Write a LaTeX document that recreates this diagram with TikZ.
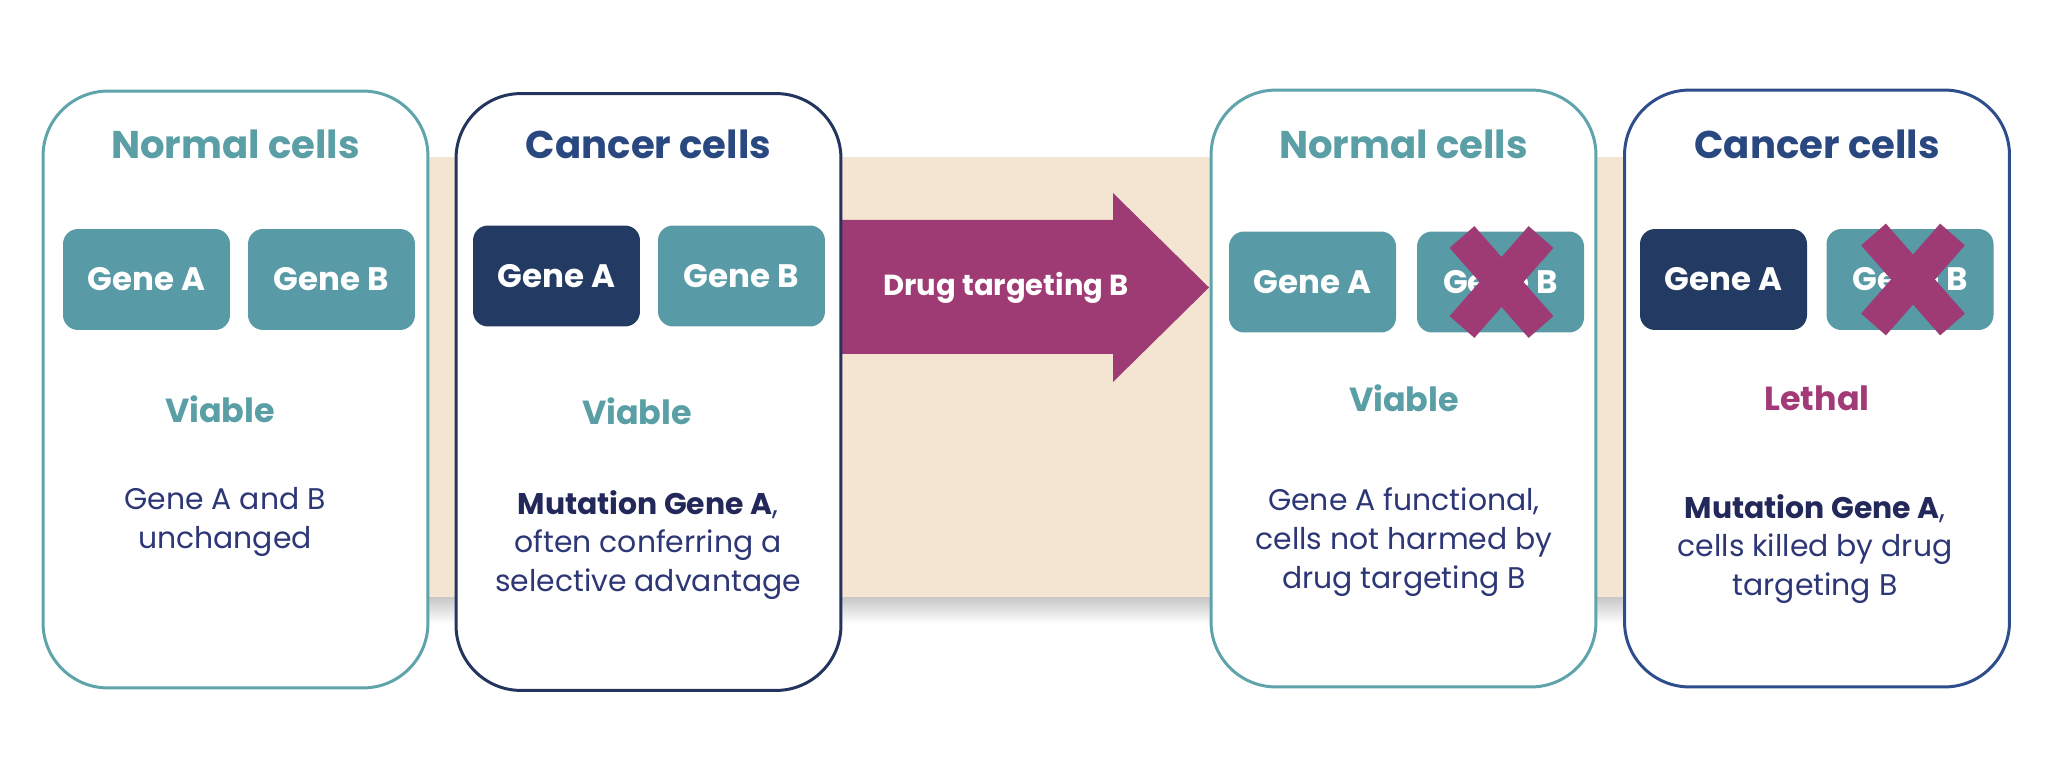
\documentclass[tikz,border=0pt]{standalone}
\usepackage{fontspec}
\setmainfont{Poppins}
\definecolor{tealT}{RGB}{90,158,166}
\definecolor{tealBox}{RGB}{88,155,166}
\definecolor{tealLine}{RGB}{95,163,171}
\definecolor{navyBox}{RGB}{35,58,98}
\definecolor{navyLineA}{RGB}{35,52,94}
\definecolor{navyLineB}{RGB}{46,77,140}
\definecolor{navyTitle}{RGB}{42,72,128}
\definecolor{bodyText}{RGB}{45,55,118}
\definecolor{boldText}{RGB}{35,40,90}
\definecolor{magentaC}{RGB}{158,59,117}
\definecolor{lethalC}{RGB}{162,58,120}
\definecolor{beige}{RGB}{244,228,210}
\tikzset{
  cellbox/.style={draw, line width=1.7pt, fill=white, rounded corners=1.3cm,
    minimum width=7.7cm, minimum height=11.94cm, inner sep=0pt},
  genebox/.style={rounded corners=0.3cm, minimum width=3.34cm, minimum height=2.02cm,
    text=white, font=\bfseries\fontsize{18.5}{20}\selectfont, inner sep=0pt},
  titlelbl/.style={font=\bfseries\fontsize{22}{26}\selectfont},
  statelbl/.style={font=\bfseries\fontsize{19}{22}\selectfont},
  bodylbl/.style={align=center, text=bodyText, font=\fontsize{17}{22}\selectfont},
  crossline/.style={line width=0.66cm, draw=magentaC, line cap=butt},
}
\begin{document}
\begin{tikzpicture}[x=0.02cm,y=-0.02cm]
\useasboundingbox (0,0) rectangle (2048,773);
% band and its shadow
\fill[beige] (300,157) rectangle (1700,597);
\shade[top color=black!22, bottom color=white] (300,597) rectangle (1700,624);
% arrow
\fill[magentaC] (842,220) -- (1113,220) -- (1113,193) -- (1209,287.5) -- (1113,382) -- (1113,354) -- (842,354) -- cycle;
\node[text=white, font=\bfseries\fontsize{16.5}{20}\selectfont] (drug) at (1006,288) {Drug targeting B};
% cell boxes
\node[cellbox, draw=tealLine] (c1) at (235.5,389.5) {};
\node[cellbox, draw=navyLineA] (c2) at (648.5,392) {};
\node[cellbox, draw=tealLine] (c3) at (1403.5,388.5) {};
\node[cellbox, draw=navyLineB] (c4) at (1817,388.5) {};
% titles
\node[titlelbl, text=tealT] (t1) at (235.5,144) {Normal cells};
\node[titlelbl, text=navyTitle] (t2) at (648.5,144) {Cancer cells};
\node[titlelbl, text=tealT] (t3) at (1403.5,144) {Normal cells};
\node[titlelbl, text=navyTitle] (t4) at (1817,144) {Cancer cells};
% gene boxes
\node[genebox, fill=tealBox] (g1a) at (146.5,279.5) {Gene A};
\node[genebox, fill=tealBox] (g1b) at (331.5,279.5) {Gene B};
\node[genebox, fill=navyBox] (g2a) at (556.5,276) {Gene A};
\node[genebox, fill=tealBox] (g2b) at (741.5,276) {Gene B};
\node[genebox, fill=tealBox] (g3a) at (1312.5,282) {Gene A};
\node[genebox, fill=tealBox] (g3b) at (1500.5,282) {Gene B};
\node[genebox, fill=navyBox] (g4a) at (1723.5,279.5) {Gene A};
\node[genebox, fill=tealBox] (g4b) at (1910,279.5) {Gene B};
% crosses
\draw[crossline] (1462,237) -- (1541,327);
\draw[crossline] (1541,237) -- (1462,327);
\draw[crossline] (1873.5,234.5) -- (1952.5,324.5);
\draw[crossline] (1952.5,234.5) -- (1873.5,324.5);
% states
\node[statelbl, text=tealT] (s1) at (220,409) {Viable};
\node[statelbl, text=tealT] (s2) at (637,411) {Viable};
\node[statelbl, text=tealT] (s3) at (1404,398) {Viable};
\node[statelbl, text=lethalC] (s4) at (1817,398) {Lethal};
% descriptions
\node[bodylbl] (d1) at (225,522) {Gene A and B\\unchanged};
\node[bodylbl] (d2) at (648,545) {{\bfseries\color{boldText}Mutation Gene A},\\often conferring a\\selective advantage};
\node[bodylbl] (d3) at (1404,542) {Gene A functional,\\cells not harmed by\\drug targeting B};
\node[bodylbl] (d4) at (1815,549) {{\bfseries\color{boldText}Mutation Gene A},\\cells killed by drug\\targeting B};
\end{tikzpicture}
\end{document}
